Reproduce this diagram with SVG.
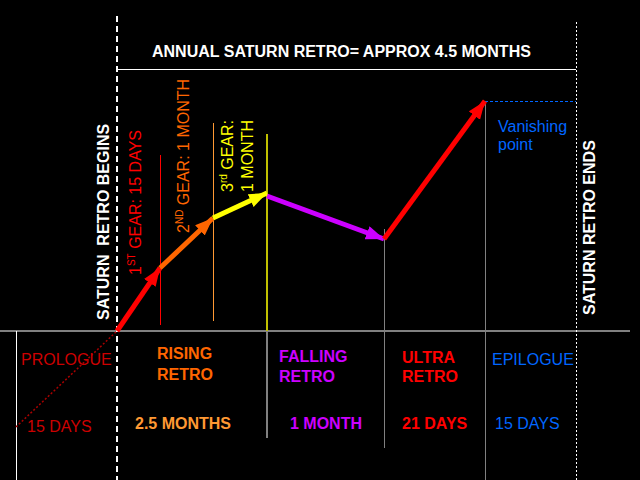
<svg xmlns="http://www.w3.org/2000/svg" width="640" height="480" viewBox="0 0 640 480">
<style>
text{font-family:"Liberation Sans",Arial,sans-serif;font-size:16px}
.b{font-weight:bold}
.w{fill:#ffffff}
.red{fill:#ff0000}
.dred{fill:#cc0000}
.or{fill:#ff6600}
.lor{fill:#ff9933}
.ye{fill:#ffff00}
.pu{fill:#cc00ff}
.bl{fill:#0066ff}
.arr{stroke-width:5;fill:none;stroke-linecap:butt}
</style>
<defs>
<marker id="hr" markerUnits="userSpaceOnUse" markerWidth="20" markerHeight="16" refX="18" refY="7" orient="auto"><path d="M0,0 L18,7 L0,14 z" fill="#ff0000"/></marker>
<marker id="ho" markerUnits="userSpaceOnUse" markerWidth="20" markerHeight="16" refX="18" refY="7" orient="auto"><path d="M0,0 L18,7 L0,14 z" fill="#ff6600"/></marker>
<marker id="hy" markerUnits="userSpaceOnUse" markerWidth="20" markerHeight="16" refX="18" refY="7" orient="auto"><path d="M0,0 L18,7 L0,14 z" fill="#ffff00"/></marker>
<marker id="hp" markerUnits="userSpaceOnUse" markerWidth="20" markerHeight="16" refX="18" refY="7" orient="auto"><path d="M0,0 L18,7 L0,14 z" fill="#cc00ff"/></marker>
</defs>
<rect x="0" y="0" width="640" height="480" fill="#000000"/>

<g id="grid">
<line x1="0" y1="331" x2="630" y2="331" stroke="#808080" stroke-width="2"/>
<line x1="117" y1="69.5" x2="576" y2="69.5" stroke="#ffffff" stroke-width="1"/>
<line x1="117" y1="16" x2="117" y2="480" stroke="#ffffff" stroke-width="2" stroke-dasharray="6,4"/>
<line x1="576.5" y1="22" x2="576.5" y2="480" stroke="#ffffff" stroke-width="1" stroke-dasharray="2,2"/>
<line x1="16.5" y1="331" x2="16.5" y2="480" stroke="#ffffff" stroke-width="1"/>
<line x1="160.5" y1="155" x2="160.5" y2="325" stroke="#ff0000" stroke-width="1"/>
<line x1="213.5" y1="123" x2="213.5" y2="321" stroke="#ff9933" stroke-width="1"/>
<line x1="267" y1="134" x2="267" y2="331" stroke="#c0c000" stroke-width="2"/>
<line x1="267" y1="331" x2="267" y2="438" stroke="#808080" stroke-width="2"/>
<line x1="384.5" y1="229" x2="384.5" y2="448" stroke="#808080" stroke-width="1"/>
<line x1="485.5" y1="101" x2="485.5" y2="480" stroke="#808080" stroke-width="1"/>
<line x1="485" y1="101.5" x2="576" y2="101.5" stroke="#0066ff" stroke-width="1" stroke-dasharray="3,2"/>
</g>

<g id="connectors">
<line x1="16" y1="427" x2="117" y2="331" stroke="#aa0000" stroke-width="1.5" stroke-dasharray="2,2"/>
<line class="arr" x1="117" y1="331" x2="160" y2="268" stroke="#ff0000" stroke-width="6" marker-end="url(#hr)"/>
<line class="arr" x1="160" y1="268" x2="213" y2="218" stroke="#ff6600" marker-end="url(#ho)"/>
<line class="arr" x1="213" y1="218" x2="267" y2="193" stroke="#ffff00" marker-end="url(#hy)"/>
<line class="arr" x1="267" y1="196" x2="384" y2="239" stroke="#cc00ff" stroke-width="6" marker-end="url(#hp)"/>
<line class="arr" x1="384" y1="239" x2="485" y2="101" stroke="#ff0000" stroke-width="6" marker-end="url(#hr)"/>
</g>

<g id="title"><text class="b w" x="152" y="57">ANNUAL SATURN RETRO= APPROX 4.5 MONTHS</text></g>
<g id="begins"><text class="b w" transform="translate(109,320) rotate(-90)" xml:space="preserve">SATURN  RETRO BEGINS</text></g>
<g id="ends"><text class="b w" transform="translate(595,315) rotate(-90)">SATURN RETRO ENDS</text></g>

<g id="gear1"><text class="red" transform="translate(141,275) rotate(-90)">1<tspan font-size="10" dy="-6">ST</tspan><tspan dy="6"> GEAR: 15 DAYS</tspan></text></g>
<g id="gear2"><text class="or" transform="translate(189,233) rotate(-90)">2<tspan font-size="10" dy="-6">ND</tspan><tspan dy="6"> GEAR: 1 MONTH</tspan></text></g>
<g id="gear3"><text class="ye" transform="translate(233,192) rotate(-90)">3<tspan font-size="10" dy="-6">rd</tspan><tspan dy="6"> GEAR:</tspan></text>
<text class="ye" transform="translate(253,192) rotate(-90)">1 MONTH</text></g>

<g id="vanishing"><text class="bl" x="498" y="132">Vanishing</text><text class="bl" x="498" y="150">point</text></g>

<g id="prologue"><text class="dred" x="21" y="365">PROLOGUE</text><text class="dred" x="27" y="432">15 DAYS</text></g>
<g id="rising"><text class="b or" x="157" y="359">RISING</text><text class="b or" x="157" y="380">RETRO</text><text class="b lor" x="135" y="429">2.5 MONTHS</text></g>
<g id="falling"><text class="b pu" x="279" y="362">FALLING</text><text class="b pu" x="279" y="382">RETRO</text><text class="b pu" x="290" y="429">1 MONTH</text></g>
<g id="ultra"><text class="b red" x="402" y="363">ULTRA</text><text class="b red" x="402" y="382">RETRO</text><text class="b red" x="402" y="429">21 DAYS</text></g>
<g id="epilogue"><text class="bl" x="492" y="365">EPILOGUE</text><text class="bl" x="495" y="429">15 DAYS</text></g>
</svg>
